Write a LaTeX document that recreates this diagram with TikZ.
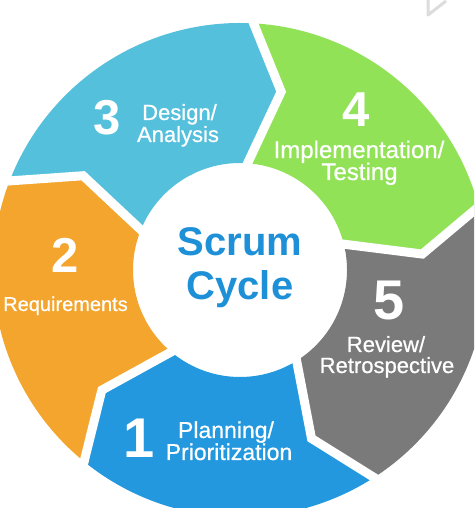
\documentclass[tikz,border=0pt]{standalone}
\usepackage{fontspec}
\setmainfont{Liberation Sans}
\newfontfamily\lblfont[FakeBold=0.7]{Liberation Sans}
\definecolor{segorange}{HTML}{F3A52D}
\definecolor{seglblue}{HTML}{54C0DC}
\definecolor{seggreen}{HTML}{92E258}
\definecolor{seggray}{HTML}{7A7A7A}
\definecolor{segblue}{HTML}{2398DE}
\definecolor{scrumblue}{HTML}{1E90D7}
\definecolor{markgray}{HTML}{DCDCDC}
\begin{document}
\begin{tikzpicture}[x=1pt,y=1pt,
  lbl/.style={text=white, inner sep=0pt, anchor=base},
  numbig/.style={text=white, inner sep=0pt, anchor=base, font=\bfseries\fontsize{49}{49}\selectfont},
  numhuge/.style={text=white, inner sep=0pt, anchor=base, font=\bfseries\fontsize{56}{56}\selectfont},
  gapline/.style={draw=white, line width=9pt, line join=miter},
  title/.style={text=scrumblue, inner sep=0pt, anchor=base, font=\bfseries\fontsize{40}{40}\selectfont}]
\useasboundingbox (0,0) rectangle (474,508);
\clip (0,0) rectangle (474,508);
% ring segments
\begin{scope}[shift={(240,238)}]
  \foreach \bs/\col in {88/seggreen, 16/seggray, -56/segblue, -128/segorange, -200/seglblue}{
    \pgfmathsetmacro\be{\bs-72}
    \pgfmathsetmacro\ve{\be-11}
    \pgfmathsetmacro\vs{\bs-11}
    \fill[\col] (\bs:247) arc[start angle=\bs, end angle=\be, radius=247pt]
      -- (\ve:183) -- (\be:107) arc[start angle=\be, end angle=\bs, radius=107pt]
      -- (\vs:183) -- cycle;
  }
  \foreach \bs in {88, 16, -56, -128, -200}{
    \pgfmathsetmacro\vs{\bs-11}
    \draw[gapline] (\bs:258) -- (\vs:183) -- (\bs:98);
  }
\end{scope}
% corner mark
\draw[markgray, line width=3pt, line join=round] (428,509) -- (428,493) -- (446,507);
% centre title
\node[title] (scrum) at (240,252) {Scrum};
\node[title] (cycle) at (240,208) {Cycle};
% numbers
\node[numhuge] (n1) at (139,50) {1};
\node[numbig] (n2) at (65,235) {2};
\node[numbig] (n3) at (107.5,373) {3};
\node[numbig] (n4) at (356,381) {4};
\node[numhuge] (n5) at (389,188) {5};
% labels
\node[lbl, font=\lblfont\fontsize{20}{20}\selectfont] (req) at (65.5,197) {Requirements};
\node[lbl, font=\lblfont\fontsize{22}{22}\selectfont] (des) at (179.5,388) {Design/};
\node[lbl, font=\lblfont\fontsize{22}{22}\selectfont] (ana) at (178,366) {Analysis};
\node[lbl, font=\lblfont\fontsize{24}{24}\selectfont] (impl) at (359,350) {Implementation/};
\node[lbl, font=\lblfont\fontsize{24}{24}\selectfont] (test) at (359.5,328) {Testing};
\node[lbl, font=\lblfont\fontsize{22}{22}\selectfont] (rev) at (386,156) {Review/};
\node[lbl, font=\lblfont\fontsize{22}{22}\selectfont] (retro) at (387,135) {Retrospective};
\node[lbl, font=\lblfont\fontsize{23}{23}\selectfont] (plan) at (226,70) {Planning/};
\node[lbl, font=\lblfont\fontsize{23}{23}\selectfont] (prio) at (229,48) {Prioritization};
\end{tikzpicture}
\end{document}
